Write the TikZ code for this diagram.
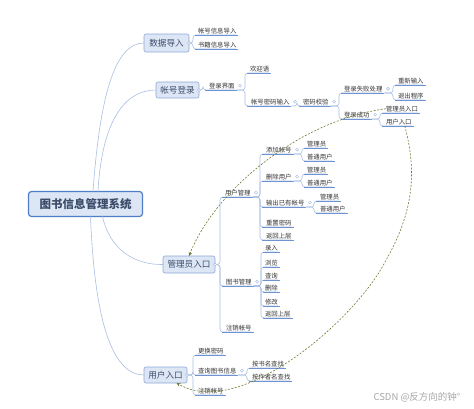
\documentclass[tikz,border=0pt]{standalone}
\usepackage{fontspec}
\setmainfont{Noto Sans CJK SC}
\usetikzlibrary{arrows.meta}
\definecolor{conncol}{HTML}{A9BEE2}
\definecolor{ulcol}{HTML}{6E93D3}
\definecolor{boxfill}{HTML}{DCE6F5}
\definecolor{boxdraw}{HTML}{8DA8D6}
\definecolor{rootdraw}{HTML}{4F7DC6}
\definecolor{dashcol}{HTML}{6F7B33}
\definecolor{txt}{HTML}{333333}
\definecolor{boxtxt}{HTML}{3B4B68}
\newcommand{\lf}[6]{%
  \node[leaf] (#1) at (#3,#4) {#5};
  \draw[conn,rounded corners=3pt] (#6) -| (#2,#4) -- (#1.south east);
  \draw[uline] (#2+2,#4) -- ([xshift=2pt]#1.south east);
}
\begin{document}
\begin{tikzpicture}[x=1pt,y=-1pt,
  leaf/.style={anchor=south west, inner xsep=0pt, inner ysep=1.3pt, outer sep=0pt, font=\fontsize{6.4}{7}\selectfont, text=txt},
  lonebox/.style={draw=boxdraw, fill=boxfill, rounded corners=2pt, line width=0.6pt, font=\fontsize{8.6}{10}\selectfont, text=boxtxt, inner sep=0pt, outer sep=0pt},
  rootbox/.style={draw=rootdraw, fill=boxfill, rounded corners=3pt, line width=1.2pt, minimum width=114pt, minimum height=25pt, font=\fontsize{11.5}{13}\selectfont\bfseries, text=boxtxt, outer sep=0pt},
  conn/.style={draw=conncol, line width=0.6pt},
  uline/.style={draw=ulcol, line width=0.9pt},
  knob/.style={circle, draw=conncol, fill=white, inner sep=0pt, minimum size=3pt, line width=0.5pt},
  linkline/.style={draw=dashcol, dash pattern=on 2pt off 1.5pt, line width=0.6pt, -{Stealth[length=4pt,width=3.5pt]}}
]
\useasboundingbox (0,0) rectangle (474,408);

% root and level-1 boxes
\node[rootbox] (root) at (85.5,204) {图书信息管理系统};
\node[lonebox, minimum width=45pt, minimum height=18pt] (sjdr) at (166.5,43) {数据导入};
\node[lonebox, minimum width=43pt, minimum height=16pt] (zhdl) at (177.5,90) {帐号登录};
\node[lonebox, minimum width=52pt, minimum height=17pt] (glyrk) at (189,264.5) {管理员入口};
\node[lonebox, minimum width=43pt, minimum height=16pt] (yhrk) at (165.5,375) {用户入口};

% root connectors
\draw[conn] ([xshift=7.5pt]root.north) .. controls (100,95) and (115,43) .. (sjdr.west);
\draw[conn] ([xshift=12.5pt]root.north) .. controls (102,120) and (125,90) .. (zhdl.west);
\draw[conn] ([xshift=17pt]root.south) .. controls (110,250) and (135,265) .. (glyrk.west);
\draw[conn] ([xshift=5pt]root.south) .. controls (95,330) and (115,375) .. (yhrk.west);

% 数据导入
\lf{d1}{193}{198}{35}{帐号信息导入}{sjdr.east}
\lf{d2}{193}{198}{49}{书籍信息导入}{sjdr.east}
% 帐号登录
\lf{dljm}{203}{209}{90}{登录界面}{zhdl.east}
\lf{hyy}{245}{250}{73}{欢迎语}{[xshift=2pt]dljm.south east}
\lf{zhmm}{245}{251}{106}{帐号密码输入}{[xshift=2pt]dljm.south east}
\lf{mmjy}{297}{303}{106}{密码校验}{[xshift=2pt]zhmm.south east}
\lf{sb}{339}{344}{93}{登录失败处理}{[xshift=2pt]mmjy.south east}
\lf{cg}{339}{344}{119}{登录成功}{[xshift=2pt]mmjy.south east}
\lf{cx}{393}{398}{85}{重新输入}{[xshift=2pt]sb.south east}
\lf{tc}{393}{398}{100}{退出程序}{[xshift=2pt]sb.south east}
\lf{gk}{380}{386}{113}{管理员入口}{[xshift=2pt]cg.south east}
\lf{yk}{380}{386}{126}{用户入口}{[xshift=2pt]cg.south east}
% 管理员入口
\lf{yhgl}{220}{225}{197}{用户管理}{glyrk.east}
\lf{tsgl}{220}{226}{286}{图书管理}{glyrk.east}
\lf{zx1}{220}{226}{332}{注销帐号}{glyrk.east}
\lf{tj}{260}{266}{154}{添加帐号}{[xshift=2pt]yhgl.south east}
\lf{sc}{260}{266}{181}{删除用户}{[xshift=2pt]yhgl.south east}
\lf{sc2}{260}{266}{207}{输出已有帐号}{[xshift=2pt]yhgl.south east}
\lf{cz}{260}{266}{227}{重置密码}{[xshift=2pt]yhgl.south east}
\lf{fh}{260}{266}{240}{返回上层}{[xshift=2pt]yhgl.south east}
\lf{tja}{302}{307}{148}{管理员}{[xshift=2pt]tj.south east}
\lf{tjb}{302}{307}{161}{普通用户}{[xshift=2pt]tj.south east}
\lf{sca}{302}{307}{174}{管理员}{[xshift=2pt]sc.south east}
\lf{scb}{302}{307}{187}{普通用户}{[xshift=2pt]sc.south east}
\lf{oa}{314}{320}{201}{管理员}{[xshift=2pt]sc2.south east}
\lf{ob}{314}{320}{213}{普通用户}{[xshift=2pt]sc2.south east}
\lf{lr}{261}{265}{252}{录入}{[xshift=2pt]tsgl.south east}
\lf{ll}{261}{265}{267}{浏览}{[xshift=2pt]tsgl.south east}
\lf{cx2}{261}{265}{280}{查询}{[xshift=2pt]tsgl.south east}
\lf{sc3}{261}{265}{292}{删除}{[xshift=2pt]tsgl.south east}
\lf{xg}{261}{265}{306}{修改}{[xshift=2pt]tsgl.south east}
\lf{fh2}{261}{265}{318}{返回上层}{[xshift=2pt]tsgl.south east}
% 用户入口
\lf{ghmm}{193}{198}{355}{更换密码}{yhrk.east}
\lf{cxts}{193}{198}{375}{查询图书信息}{yhrk.east}
\lf{zx2}{193}{198}{395}{注销帐号}{yhrk.east}
\lf{sm}{247}{252}{368}{按书名查找}{[xshift=2pt]cxts.south east}
\lf{zz}{247}{252}{381}{按作者名查找}{[xshift=2pt]cxts.south east}

% collapse knobs
\foreach \b in {sjdr,zhdl,glyrk,yhrk} \node[knob] at (\b.east) {};
\foreach \b in {dljm,zhmm,mmjy,sb,cg,yhgl,tsgl,tj,sc,sc2,cxts} \node[knob] at ([xshift=5.5pt]\b.east) {};

% dashed links
\draw[linkline] (gk.west) .. controls (300,120) and (215,190) .. (glyrk.north);
\draw[linkline] ([xshift=6pt]yk.south) .. controls (418,175) and (412,215) .. (385,262) .. controls (355,320) and (240,420) .. ([xshift=11pt]yhrk.south);

% watermark
\node[text=black!35, font=\fontsize{9.5}{11}\selectfont, inner sep=0pt] (wm) at (417,397) {CSDN @反方向的钟°};
\end{tikzpicture}
\end{document}
